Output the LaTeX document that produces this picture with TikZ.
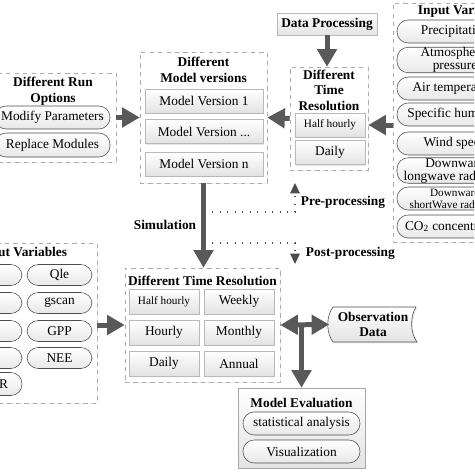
\documentclass[tikz,border=0pt]{standalone}
\usepackage{fontspec}
\setmainfont{Liberation Serif}
\usetikzlibrary{arrows.meta,shadows,positioning}

\begin{document}
\begin{tikzpicture}[x=0.25mm,y=-0.25mm,font=\fontsize{9.5}{10.5}\selectfont,
    wh/.style 2 args={minimum width=#1*0.25mm,minimum height=#2*0.25mm,inner sep=0pt},
    group/.style={draw=gray!65,dashed,fill=white,
      drop shadow={shadow xshift=0.35mm,shadow yshift=-0.35mm,fill=gray!25}},
    item/.style={draw=gray!55,top color=white,bottom color=gray!22,
      drop shadow={shadow xshift=0.3mm,shadow yshift=-0.3mm,fill=gray!35}},
    pill/.style={draw=gray!60!black,rounded corners=2.8mm,top color=white,bottom color=gray!18},
    title/.style={font=\fontsize{9.5}{11}\selectfont\bfseries,align=center},
    small/.style={font=\fontsize{8}{8.5}\selectfont,align=center},
    bigarrow/.style={draw=gray!70!black,line width=1.25mm,
      -{Triangle[length=4.4mm,width=4.8mm]}},
    dotarrow/.style={draw=gray!60!black,line width=0.9pt,dash pattern=on 0.8pt off 1.6mm,
      -{Triangle[length=2.6mm,width=2.4mm]}}]

  \useasboundingbox (0,0) rectangle (474,474);
  \clip (0,0) rectangle (474,474);

  % run options
  \node[group,wh={126}{89}] (runopt) at (53,117.5) {};
  \node[title] (runtitle) at (53,91) {Different Run\\Options};
  \node[pill,wh={115}{23}] (modify) at (52.5,117.5) {Modify Parameters};
  \node[pill,wh={115}{24}] (replace) at (52.5,145) {Replace Modules};

  % model versions
  \node[group,wh={127}{131}] (mv) at (203.5,117.5) {};
  \node[title] (mvtitle) at (203.5,70) {Different\\Model versions};
  \node[item,wh={118}{24}] (mv1) at (204,101) {Model Version 1};
  \node[item,wh={118}{24}] (mv2) at (204,131.5) {Model Version ...};
  \node[item,wh={118}{24}] (mvn) at (204,164) {Model Version n};

  % data processing and time resolution (input side)
  \node[item,title,wh={100}{22}] (dp) at (327,24) {Data Processing};
  \node[group,wh={78}{103}] (ttr) at (329,118.5) {};
  \node[title] (ttrtitle) at (329,90) {Different\\Time\\Resolution};
  \node[item,small,wh={70}{24}] (hh1) at (330,125) {Half hourly};
  \node[item,wh={70}{24}] (daily1) at (330,152.5) {Daily};

  % input variables
  \node[group,wh={124}{239}] (inp) at (455,122.5) {};
  \node[title,anchor=west] (inptitle) at (413,11) {Input Variables};
  \node[pill,wh={116}{23}] (prec) at (455,31.5) {Precipitation};
  \node[pill,wh={116}{24},align=center,font=\fontsize{9.5}{9.5}\selectfont] (press) at (455,60) {Atmospheric\\pressure};
  \node[pill,wh={116}{23}] (temp) at (455,88.5) {Air temperature};
  \node[pill,wh={116}{23}] (hum) at (455,114.5) {Specific humidity};
  \node[pill,wh={116}{23}] (wind) at (455,143.5) {Wind speed};
  \node[pill,wh={116}{25},align=center,font=\fontsize{9.5}{9.5}\selectfont] (lw) at (455,170.5) {Downward\\longwave radiation};
  \node[pill,wh={116}{23},small] (sw) at (455,198.5) {Downward\\shortWave radiation};
  \node[pill,wh={116}{23}] (co2) at (455,226.5) {CO\textsubscript{2} concentration};

  % output variables
  \node[group,wh={157}{160}] (outv) at (18.5,323) {};
  \node[title,anchor=east] (outtitle) at (72,253) {Output Variables};
  \foreach \y [count=\i] in {275,303,331,358}
    \node[pill,wh={65}{21}] (outl\i) at (-10.5,\y) {};
  \node[pill,wh={65}{23}] (outl5) at (-10.5,384) {};
  \node (rlabel) at (3.5,384) {R};
  \node[pill,wh={65}{21}] (qle) at (59.5,275) {Qle};
  \node[pill,wh={65}{21}] (gscan) at (59.5,303) {gscan};
  \node[pill,wh={65}{21}] (gpp) at (59.5,331) {GPP};
  \node[pill,wh={65}{21}] (nee) at (59.5,358) {NEE};

  % time resolution (output side)
  \node[group,wh={155}{114}] (tres) at (202.5,325) {};
  \node[title] (trestitle) at (202.5,281) {Different Time Resolution};
  \node[item,small,wh={70}{25}] (hh2) at (164,301.5) {Half hourly};
  \node[item,wh={70}{25}] (weekly) at (239,301.5) {Weekly};
  \node[item,wh={70}{25}] (hourly) at (164,332.5) {Hourly};
  \node[item,wh={70}{25}] (monthly) at (239,332.5) {Monthly};
  \node[item,wh={70}{25}] (daily2) at (164,363.5) {Daily};
  \node[item,wh={70}{25}] (annual) at (239,363.5) {Annual};

  % observation data
  \draw[draw=gray!60!black,top color=white,bottom color=gray!22,
    drop shadow={shadow xshift=0.35mm,shadow yshift=-0.35mm,fill=gray!30}]
    (333,307) -- (416,307) .. controls (410,316) and (410,333) .. (417,342)
    -- (333,342) .. controls (326,333) and (326,316) .. (333,307) -- cycle;
  \node[title,wh={87}{35}] (obs) at (373,324.5) {Observation\\Data};

  % model evaluation
  \node[item,draw=gray!70,wh={127}{80}] (meval) at (301.5,428) {};
  \node[title] (mevaltitle) at (301.5,403) {Model Evaluation};
  \node[pill,wh={117}{23}] (stat) at (301.5,423.5) {statistical analysis};
  \node[pill,wh={117}{23}] (vis) at (301.5,451.5) {Visualization};

  % arrows
  \draw[bigarrow] (runopt.east) -- (mv.west);
  \draw[bigarrow] (ttr.west) -- (mv.east);
  \draw[bigarrow] (inp.west |- hh1) -- (ttr.east |- hh1);
  \draw[bigarrow] (dp.south) -- (dp.south |- ttr.north);
  \draw[bigarrow] (mv.south) -- (mv.south |- tres.north);
  \draw[bigarrow] (outv.east |- tres.west) -- (tres.west);
  \draw[bigarrow,{Triangle[length=4.4mm,width=4.8mm]}-{Triangle[length=4.4mm,width=4.8mm]}]
    (tres.east) -- (obs.west);
  \coordinate (split) at (meval.north |- tres.east);
  \draw[bigarrow] (split) -- (meval.north);
  \node[title] (simlab) at (165,225) {Simulation};

  % pre- and post-processing
  \coordinate (prestart) at (212,212);
  \coordinate (preend) at (295,183);
  \coordinate (poststart) at (212,243);
  \coordinate (postend) at (295,264);
  \draw[dotarrow] (prestart) -| (preend);
  \draw[dotarrow] (poststart) -| (postend);
  \node[title,anchor=west] (prelab) at (296,202) {Pre-processing};
  \node[title,anchor=west] (postlab) at (301,253) {Post-processing};
\end{tikzpicture}
\end{document}
